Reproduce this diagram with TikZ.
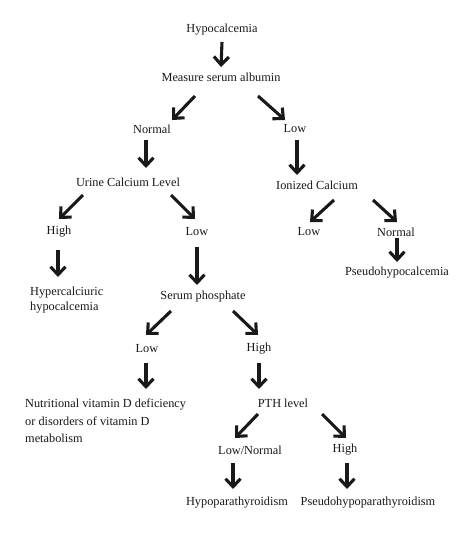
\documentclass[tikz,border=0pt]{standalone}
\usepackage{fontspec}
\setmainfont{Liberation Serif}
\usetikzlibrary{arrows.meta}
\begin{document}
\begin{tikzpicture}[x=1pt,y=-1pt,
  lbl/.style={inner sep=0pt,text=black!90,font=\fontsize{12.3}{15}\selectfont},
  arr/.style={line width=3.1pt,color=black!90,-{Straight Barb[length=8pt,width=15pt,line width=3.1pt]}}]
\useasboundingbox (0,0) rectangle (474,535);
\fill[white] (0,0) rectangle (474,535);
\node[lbl] (hypo) at (222,30) {Hypocalcemia};
\node[lbl] (msa) at (221,77) {Measure serum albumin};
\node[lbl] (normal) at (152,129) {Normal};
\node[lbl] (low1) at (295,129) {Low};
\node[lbl] (ucl) at (128,182) {Urine Calcium Level};
\node[lbl] (ion) at (317,185) {Ionized Calcium};
\node[lbl] (high2) at (59,232) {High};
\node[lbl] (low2) at (197,232) {Low};
\node[lbl] (low3) at (309,232) {Low};
\node[lbl] (normal3) at (396,232) {Normal};
\node[lbl] (pseudoca) at (397,273) {Pseudohypocalcemia};
\node[lbl,anchor=west,align=left,font=\fontsize{12.3}{15.5}\selectfont] (hyperc) at (30,300) {Hypercalciuric\\hypocalcemia};
\node[lbl] (sp) at (203,297) {Serum phosphate};
\node[lbl] (low4) at (147,349) {Low};
\node[lbl] (high4) at (259,349) {High};
\node[lbl,anchor=west,align=left,font=\fontsize{12.3}{17.5}\selectfont] (nut) at (25,421) {Nutritional vitamin D deficiency\\or disorders of vitamin D\\metabolism};
\node[lbl] (pth) at (283,403) {PTH level};
\node[lbl] (lown) at (250,450) {Low/Normal};
\node[lbl] (high5) at (345,450) {High};
\node[lbl] (hpt) at (237,503) {Hypoparathyroidism};
\node[lbl] (phpt) at (368,503) {Pseudohypoparathyroidism};

\draw[arr] ([shift={(0,12)}]hypo.center) -- ([shift={(0,-10)}]msa.center);
\draw[arr] ([shift={(-26,19)}]msa.center) -- ([shift={(20,-9)}]normal.center);
\draw[arr] ([shift={(37,19)}]msa.center) -- ([shift={(-10,-9)}]low1.center);
\draw[arr] ([shift={(-6,11)}]normal.center) -- ([shift={(18,-14)}]ucl.center);
\draw[arr] ([shift={(2,11)}]low1.center) -- ([shift={(-20,-10)}]ion.center);
\draw[arr] ([shift={(-45,13)}]ucl.center) -- ([shift={(0,-13)}]high2.center);
\draw[arr] ([shift={(43,13)}]ucl.center) -- ([shift={(-2,-13)}]low2.center);
\draw[arr] ([shift={(17,15)}]ion.center) -- ([shift={(1,-10)}]low3.center);
\draw[arr] ([shift={(56,15)}]ion.center) -- ([shift={(1,-10)}]normal3.center);
\draw[arr] ([shift={(1,6)}]normal3.center) -- ([shift={(0,-11)}]pseudoca.center);
\draw[arr] ([shift={(-1,18)}]high2.center) -- ([shift={(28,-23)}]hyperc.west);
\draw[arr] ([shift={(0,15)}]low2.center) -- ([shift={(-6,-12)}]sp.center);
\draw[arr] ([shift={(-32,14)}]sp.center) -- ([shift={(-1,-14)}]low4.center);
\draw[arr] ([shift={(30,14)}]sp.center) -- ([shift={(-1,-14)}]high4.center);
\draw[arr] ([shift={(-1,14)}]low4.center) -- ([shift={(121,-32)}]nut.west);
\draw[arr] ([shift={(0,14)}]high4.center) -- ([shift={(-24,-14)}]pth.center);
\draw[arr] ([shift={(-25,11)}]pth.center) -- ([shift={(-15,-12)}]lown.center);
\draw[arr] ([shift={(39,11)}]pth.center) -- ([shift={(1,-12)}]high5.center);
\draw[arr] ([shift={(-17,13)}]lown.center) -- ([shift={(-4,-14)}]hpt.center);
\draw[arr] ([shift={(2,13)}]high5.center) -- ([shift={(-21,-14)}]phpt.center);
\end{tikzpicture}
\end{document}
